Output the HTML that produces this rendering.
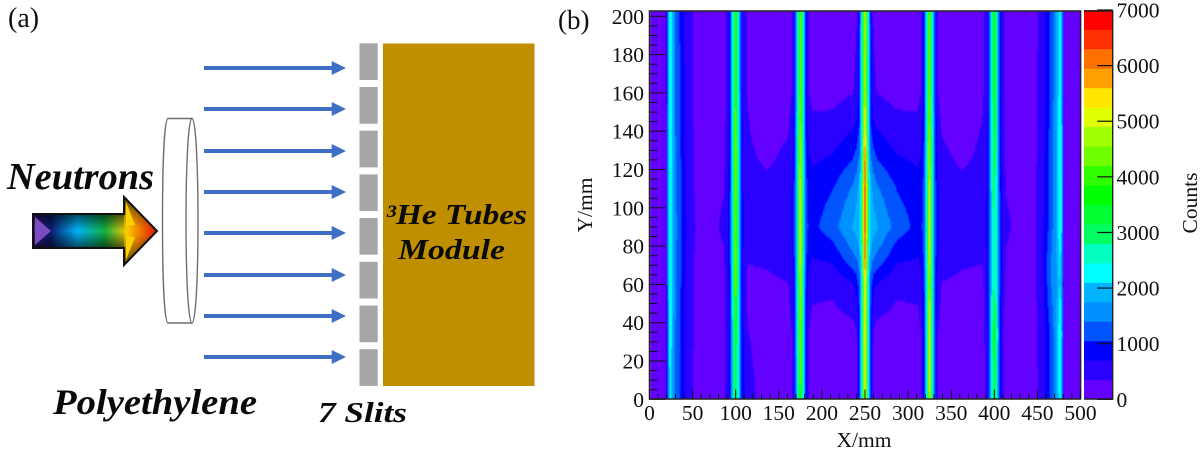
<!DOCTYPE html>
<html lang="en">
<head>
<meta charset="utf-8">
<title>Neutron slit setup and counts map</title>
<style>
html,body{margin:0;padding:0;background:#fff;}
body{width:1200px;height:449px;overflow:hidden;}
svg{display:block;}
text{font-family:"Liberation Serif",serif;fill:#111;}
.tick{font-size:21.5px;}
.title{font-size:21.5px;}
.bi{font-weight:bold;font-style:italic;fill:#0a0a0a;}
</style>
</head>
<body>
<svg id="figure" width="1200" height="449" viewBox="0 0 1200 449" xmlns="http://www.w3.org/2000/svg">
  <defs>
    <linearGradient id="rainbow" x1="33" y1="0" x2="157" y2="0" gradientUnits="userSpaceOnUse">
      <stop offset="0" stop-color="#3a1a80"/>
      <stop offset="0.14" stop-color="#0c1a70"/>
      <stop offset="0.36" stop-color="#00b4f5"/>
      <stop offset="0.58" stop-color="#10b040"/>
      <stop offset="0.76" stop-color="#ffc800"/>
      <stop offset="1" stop-color="#d81000"/>
    </linearGradient>
    <linearGradient id="shade-shaft" x1="0" y1="214" x2="0" y2="248" gradientUnits="userSpaceOnUse">
      <stop offset="0" stop-color="#000" stop-opacity="0.6"/>
      <stop offset="0.48" stop-color="#000" stop-opacity="0"/>
      <stop offset="0.52" stop-color="#000" stop-opacity="0"/>
      <stop offset="1" stop-color="#000" stop-opacity="0.6"/>
    </linearGradient>
    <linearGradient id="shade-head" x1="0" y1="197" x2="0" y2="265" gradientUnits="userSpaceOnUse">
      <stop offset="0" stop-color="#000" stop-opacity="0.65"/>
      <stop offset="0.45" stop-color="#000" stop-opacity="0"/>
      <stop offset="0.55" stop-color="#000" stop-opacity="0"/>
      <stop offset="1" stop-color="#000" stop-opacity="0.65"/>
    </linearGradient>
    <filter id="soften" x="-2%" y="-2%" width="104%" height="104%">
      <feGaussianBlur stdDeviation="0.6"/>
    </filter>
  </defs>

  <g id="schematic">
    <text x="8" y="27" font-size="28">(a)</text>
    <text class="bi" x="7" y="189" font-size="38" textLength="147" lengthAdjust="spacingAndGlyphs">Neutrons</text>
    <g>
      <path d="M33 214H124V197L157 231L124 265V248H33Z" fill="url(#rainbow)"/>
      <path d="M33 214H124V248H33Z" fill="url(#shade-shaft)"/>
      <path d="M124 197L157 231L124 265Z" fill="url(#shade-head)"/>
      <path d="M35 217L51 231L35 245Z" fill="#7a4cc0"/>
      <path d="M126 202L135 225L126 226ZM126 260L135 237L126 236Z" fill="#ffd000"/>
      <path d="M33 214H124V197L157 231L124 265V248H33Z" fill="none" stroke="#111" stroke-width="2"/>
    </g>
    <g fill="none" stroke="#6e6e6e" stroke-width="1.4">
      <path d="M168 118.5H192C196 118.5 198 170 198 221C198 272 196 323 192 323H168C164 323 162.5 272 162.5 221C162.5 170 164 118.5 168 118.5Z" fill="#fff"/>
      <path d="M192 118.5C188 118.5 186 170 186 221C186 272 188 323 192 323"/>
    </g>
    <g id="beam-arrows"></g>
    <g id="slits"></g>
    <rect x="383" y="43.5" width="151.5" height="342.5" fill="#bf8f00"/>
    <text class="bi" x="386" y="224" font-size="28" textLength="141" lengthAdjust="spacingAndGlyphs">³He Tubes</text>
    <text class="bi" x="398" y="259" font-size="28" textLength="107" lengthAdjust="spacingAndGlyphs">Module</text>
    <text class="bi" x="53" y="414" font-size="36" textLength="204" lengthAdjust="spacingAndGlyphs">Polyethylene</text>
    <text class="bi" x="318" y="422" font-size="28" textLength="89" lengthAdjust="spacingAndGlyphs">7 Slits</text>
  </g>

  <g id="chart">
    <text x="558" y="29" font-size="27">(b)</text>
    <g id="cells" filter="url(#soften)"></g>
    <g id="colorbar"></g>
    <g id="axes"></g>
    <text class="title" x="864" y="447" text-anchor="middle">X/mm</text>
    <text class="title" transform="translate(592 205) rotate(-90)" text-anchor="middle">Y/mm</text>
    <text class="title" transform="translate(1197 203) rotate(-90)" text-anchor="middle">Counts</text>
  </g>
</svg>

<script>
// Schematic
const arrowRows = [68, 109, 151, 192, 233, 275, 316, 357];
const slitTops = [43.3, 87, 130.7, 174.4, 218, 261.8, 305.5, 349.2];

// Chart data
const xTickLabels = [0, 50, 100, 150, 200, 250, 300, 350, 400, 450, 500];
const yTickLabels = [0, 20, 40, 60, 80, 100, 120, 140, 160, 180, 200];
const countTickLabels = [0, 1000, 2000, 3000, 4000, 5000, 6000, 7000];
const bandWidth = 350;
const bandColors = ['#6400ff','#2c00ff','#0000ff','#0055ff','#0090ff','#00b4ff','#00ffff','#00ffc0','#00ff60','#00ff30','#00ff00','#30ff00','#70ff00','#a0ff00','#e0ff00','#ffe600','#ffa000','#ff7000','#ff3000','#ff0000'];
const xColumns = [0,18,20,22,24,26,30,36,42,52, 62, 86,90,94,97,100,103,106,110,114, 137, 161,165,169,172,175,178,181,185,189, 212, 236,240,244,247,250,253,256,260,264, 287, 311,315,319,322,325,328,331,335,339, 362, 386,390,394,397,400,403,406,410,414, 438, 448,458,464,470,474,476,478,480,482,500];
const yRows = [203, 160, 140, 125, 110, 90, 75, 60, 35, 0];
const countsY203 = [180,200,450,1800,2500,2100,1350,950,600,300, 180, 200,400,900,2500,4300,2500,900,400,330, 170, 200,330,850,2500,4400,2500,850,330,200, 170, 200,300,900,2800,5000,2800,900,300,200, 170, 200,330,850,2500,4400,2500,850,330,200, 170, 280,420,900,2400,3800,2400,900,420,280, 180, 270,620,1000,1500,2000,2400,2050,450,230,180];
const countsY160 = [180,200,450,1800,2500,2100,1400,1000,620,310, 180, 220,420,900,2500,4300,2500,900,420,340, 180, 240,350,850,2500,4500,2500,850,350,250, 230, 340,450,950,2800,5200,2800,950,450,340, 230, 250,350,850,2500,4500,2500,850,350,240, 180, 300,430,900,2400,3800,2400,900,430,300, 180, 280,640,1000,1500,2000,2400,2050,450,230,180];
const countsY140 = [180,200,480,1800,2500,2150,1400,1000,650,320, 190, 240,450,950,2550,4400,2550,950,460,370, 230, 340,500,1000,2600,4700,2650,1000,620,470, 500, 720,800,1100,2900,5700,2900,1100,800,720, 500, 470,620,1000,2650,4700,2600,1000,500,340, 230, 370,460,950,2300,3600,2300,950,450,300, 190, 290,660,1050,1550,2050,2450,2100,470,230,180];
const countsY125 = [180,210,500,1800,2500,2150,1450,1050,680,335, 200, 270,480,1000,2600,4500,2600,1000,510,400, 310, 420,620,1100,2700,4900,2750,1100,740,650, 750, 1050,1200,1500,3100,6600,3100,1500,1200,1050, 750, 650,740,1100,2750,4900,2700,1100,620,420, 310, 400,510,1000,2250,3400,2250,1000,480,270, 200, 310,690,1050,1550,2050,2500,2100,470,230,180];
const countsY110 = [180,210,510,1800,2550,2150,1480,1060,700,350, 215, 340,540,1050,2650,4600,2650,1050,580,450, 420, 520,720,1150,2750,5100,2800,1150,880,860, 1030, 1450,1650,1900,3500,7000,3500,1900,1650,1450, 1030, 860,880,1150,2800,5100,2750,1150,720,520, 420, 450,580,1050,2200,3200,2200,1050,540,340, 215, 330,720,1050,1600,2050,2550,2150,500,230,180];
const countsY90 = [180,220,520,1850,2650,2200,1500,1080,720,370, 230, 390,600,1100,2700,4700,2700,1100,620,470, 470, 560,760,1200,2800,5200,2850,1200,950,950, 1250, 1780,1900,2050,3600,7000,3600,2050,1900,1780, 1250, 950,950,1200,2850,5200,2800,1200,760,560, 470, 470,620,1100,2100,3000,2100,1100,600,390, 230, 350,740,1100,1600,2100,2600,2150,500,230,180];
const countsY75 = [180,215,510,1800,2600,2150,1480,1070,700,350, 215, 330,530,1080,2650,4600,2650,1080,560,380, 400, 480,660,1150,2750,5100,2800,1150,780,720, 800, 1350,1450,1700,3200,6800,3200,1700,1450,1350, 800, 720,780,1150,2800,5100,2750,1150,660,480, 400, 380,560,1100,2000,2900,2000,1100,530,330, 215, 340,750,1250,1650,1850,2200,1850,480,230,180];
const countsY60 = [180,210,500,1750,2550,2100,1450,1050,680,335, 200, 250,470,1000,2600,4500,2600,1000,480,280, 300, 340,540,1050,2600,4900,2650,1050,580,450, 420, 680,800,1200,2800,5600,2800,1200,800,680, 420, 450,580,1050,2650,4900,2600,1050,540,340, 300, 280,480,1100,2100,3000,2100,1100,470,250, 200, 330,730,1250,1650,1800,2150,1800,450,220,180];
const countsY35 = [180,210,480,1700,2500,2000,1400,1000,660,320, 180, 250,500,950,2400,3800,2400,1050,600,360, 180, 220,350,900,2600,4600,2600,900,350,220, 200, 220,330,950,2900,5400,2900,950,330,220, 200, 220,350,950,2700,5300,2700,950,350,220, 180, 230,420,900,2500,3800,2500,900,420,230, 180, 280,640,1000,1500,2050,2450,2100,470,230,180];
const countsY0 = [180,200,450,1600,2300,1950,1350,1000,650,310, 170, 280,480,850,2400,3300,2400,1100,750,480, 170, 200,350,900,2500,4200,2500,900,350,200, 170, 210,320,950,2900,5500,2900,950,320,210, 170, 200,350,950,2700,5000,2700,950,350,200, 170, 210,400,900,2300,3300,2300,900,400,210, 170, 270,620,1000,1500,2000,2400,2000,450,230,180];
const countRows = [countsY203, countsY160, countsY140, countsY125, countsY110, countsY90, countsY75, countsY60, countsY35, countsY0];

const NS = 'http://www.w3.org/2000/svg';
function make(tag, parent, attrs) {
  const el = document.createElementNS(NS, tag);
  for (const k in attrs) el.setAttribute(k, attrs[k]);
  parent.appendChild(el);
  return el;
}

// Axis functions
const xScale = v => 649.5 + v * 0.862;
const xInverse = px => (px - 649.5) / 0.862;
const yScale = v => 399.3 - v * 1.915;
const yInverse = py => (399.3 - py) / 1.915;
const countScale = v => 399.3 - v * (389.3 / 7000);
const xMax = xTickLabels[xTickLabels.length - 1];
const yMax = yRows[0];

// Schematic pieces
const arrowsGroup = document.getElementById('beam-arrows');
arrowRows.forEach(y => {
  const a = make('path', arrowsGroup, {d: `M204 ${y-2}H331.7V${y-7}L346 ${y}L331.7 ${y+7}V${y+2}H204Z`, fill: '#3f6fc4'});
  
  
});
const slitsGroup = document.getElementById('slits');
slitTops.forEach(y => {
  const s = make('rect', slitsGroup, {x: 359.5, y: y, width: 18.2, height: 36.7, fill: '#a6a6a6'});
  
  
});

// Heatmap
function bracket(list, v, descending) {
  for (let i = 0; i < list.length - 1; i++) {
    const a = list[i], b = list[i + 1];
    if (descending ? (v <= a && v >= b) : (v >= a && v <= b)) return [i, (v - a) / (b - a)];
  }
  return [list.length - 2, 1];
}
function countAt(xv, yv) {
  const [ci, cf] = bracket(xColumns, xv, false);
  const [ri, rf] = bracket(yRows, yv, true);
  const top = countRows[ri][ci] * (1 - cf) + countRows[ri][ci + 1] * cf;
  const bot = countRows[ri + 1][ci] * (1 - cf) + countRows[ri + 1][ci + 1] * cf;
  return top * (1 - rf) + bot * rf;
}
function bandOf(v) {
  return Math.max(0, Math.min(bandColors.length - 1, Math.floor(v / bandWidth)));
}
const cellsGroup = document.getElementById('cells');
const left = Math.round(xScale(0)), right = Math.round(xScale(xMax));
const topPx = Math.round(yScale(yMax)), bottomPx = Math.round(yScale(0));
const stepY = 2;
for (let py = topPx; py < bottomPx; py += stepY) {
  const yv = Math.min(yMax, Math.max(0, yInverse(py + stepY / 2)));
  let start = left, cur = bandOf(countAt(Math.max(0, xInverse(left + 0.5)), yv));
  for (let px = left + 1; px <= right; px++) {
    const b = px < right ? bandOf(countAt(Math.min(xMax, xInverse(px + 0.5)), yv)) : -1;
    if (b !== cur) {
      const cell = make('rect', cellsGroup, {x: start, y: py, width: px - start, height: stepY, fill: bandColors[cur], 'shape-rendering': 'crispEdges'});
      
      
      start = px;
      cur = b;
    }
  }
}

// Colorbar
const barGroup = document.getElementById('colorbar');
const barLeft = 1084, barRight = 1112.7;
bandColors.forEach((color, i) => {
  const y1 = countScale((i + 1) * bandWidth), y0 = countScale(i * bandWidth);
  const band = make('rect', barGroup, {x: barLeft, y: y1, width: barRight - barLeft, height: y0 - y1 + 0.3, fill: color});
  
  
});
const barEdge = make('path', barGroup, {d: `M${barLeft} ${topPx}H${barRight}V${bottomPx}H${barLeft}`, fill: 'none', stroke: '#222', 'stroke-width': 1.4});


countTickLabels.forEach(v => {
  const y = countScale(v);
  const t = make('line', barGroup, {x1: barRight - 15.5, x2: barRight, y1: y, y2: y, stroke: '#111', 'stroke-width': 1.2});
  
  
  const label = make('text', barGroup, {x: 1116.5, y: y + 7.5, class: 'tick'});
  label.textContent = v;
  
  
});

// Axes
const axesGroup = document.getElementById('axes');
const frame = make('rect', axesGroup, {x: xScale(0), y: topPx, width: xScale(xMax) - xScale(0), height: bottomPx - topPx, fill: 'none', stroke: '#222', 'stroke-width': 1.5});


for (let v = 0; v <= xMax; v += 10) {
  const major = xTickLabels.includes(v);
  const t = make('line', axesGroup, {x1: xScale(v), x2: xScale(v), y1: bottomPx, y2: bottomPx - (major ? 9.5 : 5), stroke: '#111', 'stroke-width': 1});
  
  
}
for (let v = 0; v <= 200; v += 5) {
  const major = yTickLabels.includes(v);
  const t = make('line', axesGroup, {x1: xScale(0), x2: xScale(0) + (major ? 16 : 8), y1: yScale(v), y2: yScale(v), stroke: '#111', 'stroke-width': 1});
  
  
}
xTickLabels.forEach(v => {
  const label = make('text', axesGroup, {x: xScale(v), y: 420, class: 'tick', 'text-anchor': 'middle'});
  label.textContent = v;
  
  
});
yTickLabels.forEach(v => {
  const label = make('text', axesGroup, {x: 644, y: yScale(v) + 7.5, class: 'tick', 'text-anchor': 'end'});
  label.textContent = v;
  
  
});
</script>
</body>
</html>
